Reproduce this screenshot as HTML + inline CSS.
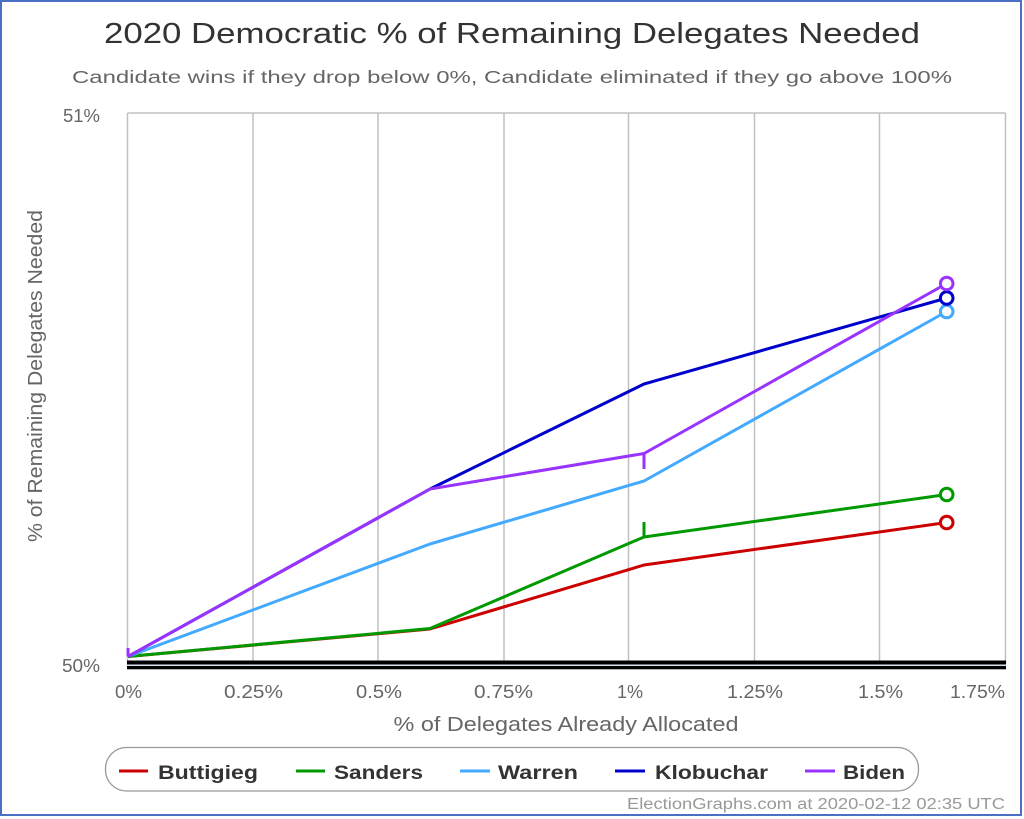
<!DOCTYPE html>
<html>
<head>
<meta charset="utf-8">
<style>
  html, body { margin:0; padding:0; background:#fff; }
  body { width:1024px; height:819px; position:relative; overflow:hidden; }
  .frame { position:absolute; left:0; top:0; width:1022px; height:816px; box-sizing:border-box; border:2px solid #4a6fc4; }
  svg { position:absolute; left:0; top:0; }
  text { font-family: "Liberation Sans", "DejaVu Sans", sans-serif; }
</style>
</head>
<body>
<svg width="1024" height="819" viewBox="0 0 1024 819">
  <!-- Title -->
  <text x="512" y="43" text-anchor="middle" font-size="29" fill="#333" textLength="816" lengthAdjust="spacingAndGlyphs">2020 Democratic % of Remaining Delegates Needed</text>
  <text x="512" y="83" text-anchor="middle" font-size="17.5" fill="#666" textLength="880" lengthAdjust="spacingAndGlyphs">Candidate wins if they drop below 0%, Candidate eliminated if they go above 100%</text>

  <!-- Grid -->
  <g stroke="#c0c0c0" stroke-width="1.5" fill="none">
    <line x1="127.5" y1="113" x2="1005.5" y2="113"/>
    <line x1="127.5" y1="113" x2="127.5" y2="664"/>
    <line x1="253" y1="113" x2="253" y2="664"/>
    <line x1="378" y1="113" x2="378" y2="664"/>
    <line x1="504" y1="113" x2="504" y2="664"/>
    <line x1="628.5" y1="113" x2="628.5" y2="664"/>
    <line x1="754.5" y1="113" x2="754.5" y2="664"/>
    <line x1="879.5" y1="113" x2="879.5" y2="664"/>
    <line x1="1005.5" y1="113" x2="1005.5" y2="664"/>
  </g>

  <!-- Baseline / axis lines -->
  <rect x="127" y="660.5" width="879" height="4" fill="#000"/>
  <line x1="127" y1="665.2" x2="1006" y2="665.2" stroke="#ccd6eb" stroke-width="1"/>
  <rect x="127" y="666" width="879" height="3.3" fill="#000"/>

  <!-- Y tick labels -->
  <text x="63" y="122" font-size="18" fill="#666" textLength="37" lengthAdjust="spacingAndGlyphs">51%</text>
  <text x="62" y="672" font-size="18" fill="#666" textLength="38" lengthAdjust="spacingAndGlyphs">50%</text>

  <!-- X tick labels -->
  <g font-size="18" fill="#666">
    <text x="115" y="698" textLength="27" lengthAdjust="spacingAndGlyphs">0%</text>
    <text x="224" y="698" textLength="59" lengthAdjust="spacingAndGlyphs">0.25%</text>
    <text x="356" y="698" textLength="46" lengthAdjust="spacingAndGlyphs">0.5%</text>
    <text x="474" y="698" textLength="59" lengthAdjust="spacingAndGlyphs">0.75%</text>
    <text x="617" y="698" textLength="26" lengthAdjust="spacingAndGlyphs">1%</text>
    <text x="727" y="698" textLength="56" lengthAdjust="spacingAndGlyphs">1.25%</text>
    <text x="858" y="698" textLength="45" lengthAdjust="spacingAndGlyphs">1.5%</text>
    <text x="950" y="698" textLength="55" lengthAdjust="spacingAndGlyphs">1.75%</text>
  </g>

  <!-- Axis titles -->
  <text x="566" y="731" text-anchor="middle" font-size="20" fill="#666" textLength="345" lengthAdjust="spacingAndGlyphs">% of Delegates Already Allocated</text>
  <text transform="translate(42,376) rotate(-90)" x="0" y="0" text-anchor="middle" font-size="20" fill="#666" textLength="332" lengthAdjust="spacingAndGlyphs">% of Remaining Delegates Needed</text>

  <!-- Series -->
  <g fill="none" stroke-width="3" stroke-linejoin="round" stroke-linecap="butt">
    <polyline stroke="#cc0000" points="128,656.5 430,629 644,565 946.7,522.5"/>
    <polyline stroke="#009900" points="128,656.5 430,628.5 644,537 946.7,494.5"/>
    <line stroke="#009900" x1="644" y1="537" x2="644" y2="522"/>
    <polyline stroke="#44aaff" points="128,656.5 430,544 644,481 946.7,311.5"/>
    <polyline stroke="#0000cc" points="128,656.5 430,489 644,384 946.7,298"/>
    <polyline stroke="#9933ff" points="128,656.5 430,489 644,453.5 946.7,283.5"/>
    <line stroke="#9933ff" x1="644" y1="453.5" x2="644" y2="469"/>
    <line stroke="#9933ff" x1="128" y1="656.5" x2="128" y2="648"/>
  </g>

  <!-- End markers -->
  <g fill="#fff" stroke-width="3">
    <circle cx="946.7" cy="522.5" r="6.3" stroke="#cc0000"/>
    <circle cx="946.7" cy="494.5" r="6.3" stroke="#009900"/>
    <circle cx="946.7" cy="311.5" r="6.3" stroke="#44aaff"/>
    <circle cx="946.7" cy="298" r="6.3" stroke="#0000cc"/>
    <circle cx="946.7" cy="283.5" r="6.3" stroke="#9933ff"/>
  </g>

  <!-- Legend -->
  <rect x="105.5" y="747.5" width="813" height="43.5" rx="21" ry="21" fill="#fff" stroke="#999" stroke-width="1.3"/>
  <g stroke-width="3">
    <line x1="119" y1="771" x2="148" y2="771" stroke="#cc0000"/>
    <line x1="296" y1="771" x2="325" y2="771" stroke="#009900"/>
    <line x1="460" y1="771" x2="490" y2="771" stroke="#44aaff"/>
    <line x1="615" y1="771" x2="645" y2="771" stroke="#0000cc"/>
    <line x1="805" y1="771" x2="835" y2="771" stroke="#9933ff"/>
  </g>
  <g font-size="19" font-weight="bold" fill="#333">
    <text x="158" y="779" textLength="100" lengthAdjust="spacingAndGlyphs">Buttigieg</text>
    <text x="334" y="779" textLength="89" lengthAdjust="spacingAndGlyphs">Sanders</text>
    <text x="498" y="779" textLength="80" lengthAdjust="spacingAndGlyphs">Warren</text>
    <text x="655" y="779" textLength="113" lengthAdjust="spacingAndGlyphs">Klobuchar</text>
    <text x="843" y="779" textLength="62" lengthAdjust="spacingAndGlyphs">Biden</text>
  </g>

  <!-- Credit -->
  <text x="1005" y="809" text-anchor="end" font-size="15.5" fill="#999" textLength="378" lengthAdjust="spacingAndGlyphs">ElectionGraphs.com at 2020-02-12 02:35 UTC</text>
</svg>
<div class="frame"></div>
</body>
</html>
